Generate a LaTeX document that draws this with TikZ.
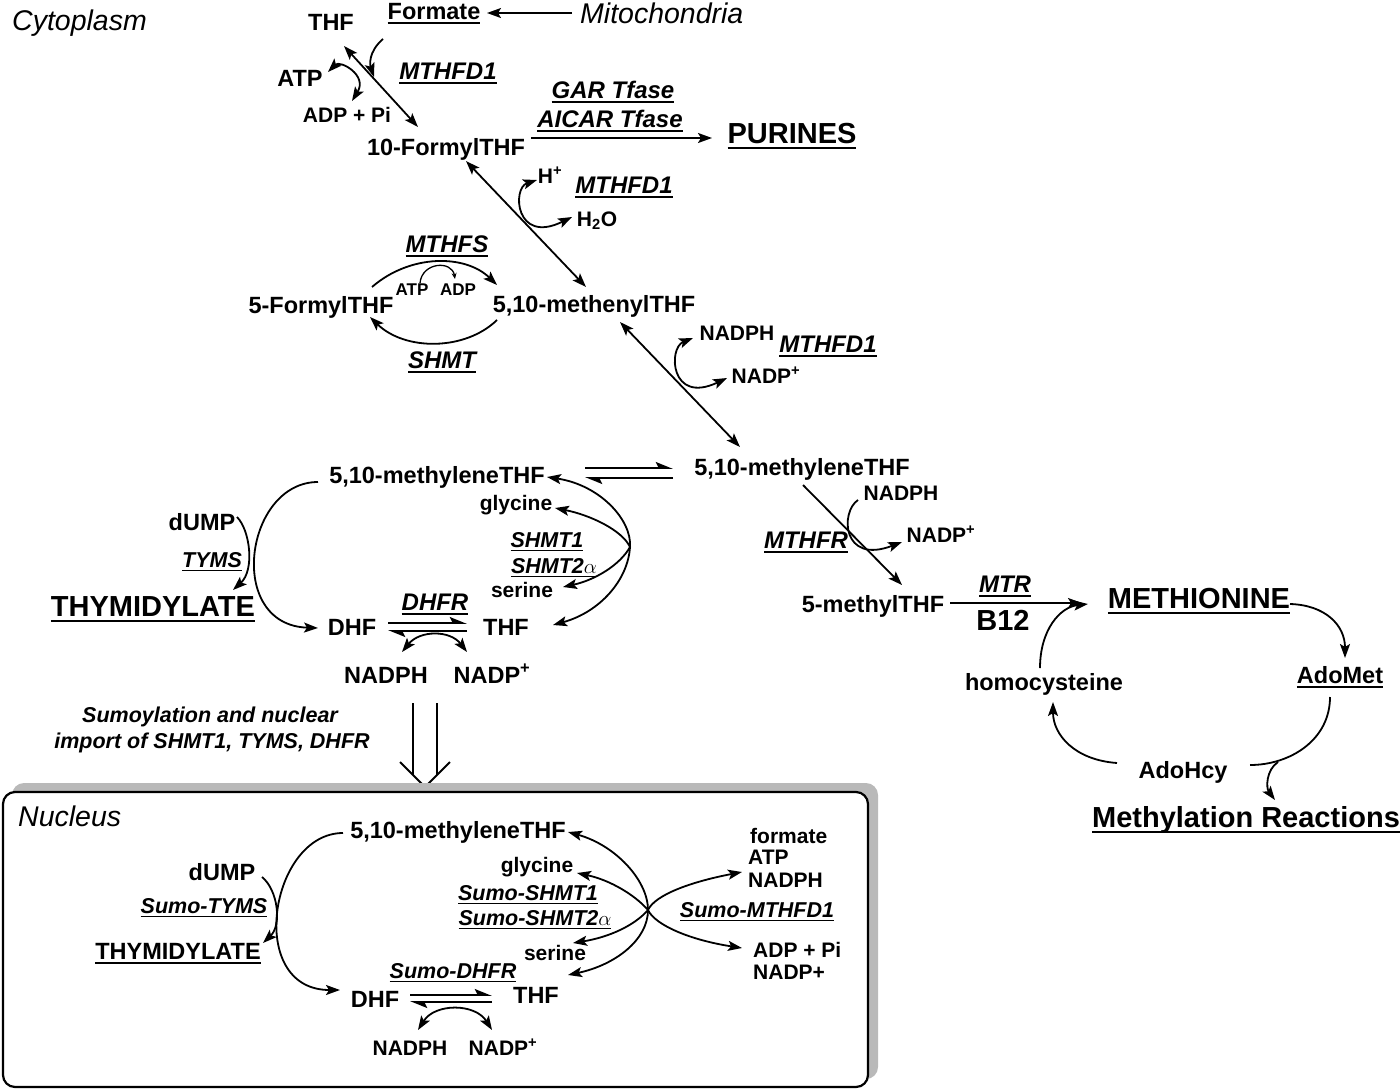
\documentclass[tikz,border=0pt]{standalone}
\usepackage{fontspec}
\setmainfont{Liberation Sans}
\usetikzlibrary{arrows.meta}
\newcommand\myul[1]{\setbox0\hbox{#1}\rlap{\rule[-0.2em]{\wd0}{0.075em}}\box0}
\tikzset{
 lab/.style={inner sep=0pt, anchor=base, font=\fontsize{23.5}{27}\selectfont\bfseries},
 sml/.style={inner sep=0pt, anchor=base, font=\fontsize{21}{24}\selectfont\bfseries},
 big/.style={inner sep=0pt, anchor=base, font=\fontsize{29}{33}\selectfont\bfseries},
 enz/.style={inner sep=0pt, anchor=base, font=\fontsize{24}{27}\selectfont\bfseries\itshape},
 senz/.style={inner sep=0pt, anchor=base, font=\fontsize{21.5}{25}\selectfont\bfseries\itshape},
 reg/.style={inner sep=0pt, anchor=base west, font=\fontsize{28.5}{32}\selectfont\itshape},
 tny/.style={inner sep=0pt, anchor=base, font=\fontsize{17}{20}\selectfont\bfseries},
 ln/.style={line width=1.8pt},
 ar/.style={ln, -{Stealth[length=14pt,width=10pt,inset=3pt]}},
 aa/.style={ln, {Stealth[length=14pt,width=10pt,inset=3pt]}-{Stealth[length=14pt,width=10pt,inset=3pt]}},
 hp/.style={ln, -{Stealth[harpoon,length=15pt,width=12pt,inset=3pt]}},
 tinyar/.style={line width=1.3pt, -{Stealth[length=6pt,width=5pt]}},
}
\begin{document}
\begin{tikzpicture}[x=1pt,y=-1pt]
\useasboundingbox (0,0) rectangle (1400,1090);
% ---------------- Cytoplasm ----------------
\node[reg] (cyto) at (12,30) {Cytoplasm};
\node[lab] (thf0) at (331,30) {THF};
\node[lab] (formate) at (434,19) {\myul{Formate}};
\node[reg] (mito) at (580,23) {Mitochondria};
\node[lab] (atp0) at (300,86) {ATP};
\node[enz] (mthfd1a) at (448,79) {\myul{MTHFD1}};
\node[sml] (adppi0) at (347,122) {ADP + Pi};
\node[lab] (formyl10) at (446,155) {10-FormylTHF};
\node[enz] (gar) at (613,98) {\myul{GAR Tfase}};
\node[enz] (aicar) at (610,127) {\myul{AICAR Tfase}};
\node[big] (purines) at (792,143) {\myul{PURINES}};
\node[sml] (hplus) at (550,183) {H\textsuperscript{+}};
\node[enz] (mthfd1b) at (624,193) {\myul{MTHFD1}};
\node[sml] (h2o) at (597,226) {H\textsubscript{2}O};
\node[lab] (methenyl) at (594,312) {5,10-methenylTHF};
\node[enz] (mthfs) at (447,252) {\myul{MTHFS}};
\node[lab] (formyl5) at (321,313) {5-FormylTHF};
\node[tny] (atps) at (412,295) {ATP};
\node[tny] (adps) at (458,295) {ADP};
\node[enz] (shmt) at (442,368) {\myul{SHMT}};
\node[sml] (nadph1) at (737,340) {NADPH};
\node[enz] (mthfd1c) at (828,352) {\myul{MTHFD1}};
\node[sml] (nadp1) at (766,383) {NADP\textsuperscript{+}};
\node[lab] (mlL) at (437,483) {5,10-methyleneTHF};
\node[lab] (mlR) at (802,475) {5,10-methyleneTHF};
\node[sml] (gly) at (516,510) {glycine};
\node[senz] (shmt1) at (547,547) {\myul{SHMT1}};
\node[senz] (shmt2) at (554,573) {\myul{SHMT2$\alpha$}};
\node[sml] (ser) at (522,597) {serine};
\node[enz] (dhfr) at (435,610) {\myul{DHFR}};
\node[lab] (dhf) at (352,635) {DHF};
\node[lab] (thf) at (506,635) {THF};
\node[lab] (nadph2) at (386,683) {NADPH};
\node[lab] (nadp2) at (492,683) {NADP\textsuperscript{+}};
\node[lab] (dump) at (202,530) {dUMP};
\node[senz] (tyms) at (212,567) {\myul{TYMS}};
\node[big] (thym) at (153,616) {\myul{THYMIDYLATE}};
\node[enz] (mthfr) at (806,548) {\myul{MTHFR}};
\node[sml] (nadph3) at (901,500) {NADPH};
\node[sml] (nadp3) at (941,542) {NADP\textsuperscript{+}};
\node[lab] (methyl5) at (873,612) {5-methylTHF};
\node[enz] (mtr) at (1005,592) {\myul{MTR}};
\node[big] (b12) at (1003,630) {B12};
\node[big] (methionine) at (1199,608) {\myul{METHIONINE}};
\node[lab] (adomet) at (1340,683) {\myul{AdoMet}};
\node[lab] (homocys) at (1044,690) {homocysteine};
\node[lab] (adohcy) at (1183,778) {AdoHcy};
\node[big] (methylation) at (1246,827) {\myul{Methylation Reactions}};
\node[senz] (sumo1) at (210,722) {Sumoylation and nuclear};
\node[senz] (sumo2) at (212,748) {import of SHMT1, TYMS, DHFR};
% coordinates and connectors
\coordinate (c1) at (572,13); \coordinate (c2) at (487,13);
\draw[ar] (c1) -- (c2);
\coordinate (d1) at (344,46); \coordinate (d2) at (418,127);
\draw[aa] (d1) -- (d2);
\coordinate (f1) at (383,39); \coordinate (f2) at (374,77);
\draw[ar] (f1) .. controls (368,52) and (370,65) .. (f2);
\coordinate (a1) at (328,72); \coordinate (a2) at (352,101);
\draw[aa] (a1) .. controls (340,60) and (368,75) .. (a2);
\coordinate (p1) at (531,138); \coordinate (p2) at (712,138);
\draw[ar] (p1) -- (p2);
\coordinate (e1) at (466,161); \coordinate (e2) at (586,287);
\draw[aa] (e1) -- (e2);
\coordinate (h1) at (537,180); \coordinate (h2) at (572,217);
\draw[aa] (h1) .. controls (512,188) and (515,245) .. (h2);
\coordinate (s1) at (372,287); \coordinate (s2) at (497,285);
\draw[ar] (s1) .. controls (410,254) and (465,254) .. (s2);
\coordinate (t1) at (420,283); \coordinate (t2) at (455,279);
\draw[tinyar] (t1) .. controls (422,262) and (452,260) .. (t2);
\coordinate (s3) at (497,320); \coordinate (s4) at (370,317);
\draw[ar] (s3) .. controls (465,351) and (405,351) .. (s4);
\coordinate (g1) at (620,322); \coordinate (g2) at (740,447);
\draw[aa] (g1) -- (g2);
\coordinate (n1) at (693,338); \coordinate (n2) at (727,378);
\draw[aa] (n1) .. controls (668,348) and (670,405) .. (n2);
\coordinate (q1) at (585,468); \coordinate (q2) at (673,468);
\coordinate (q3) at (673,478); \coordinate (q4) at (585,478);
\draw[hp] (q1) -- (q2);
\draw[hp] (q3) -- (q4);
\coordinate (ty1) at (318,482); \coordinate (ty2) at (318,628);
\draw[ar] (ty1) .. controls (245,482) and (225,625) .. (ty2);
\coordinate (du1) at (237,517); \coordinate (du2) at (233,590);
\draw[ar] (du1) .. controls (250,530) and (255,570) .. (du2);
\coordinate (r1) at (388,623); \coordinate (r2) at (467,623);
\coordinate (r3) at (467,631); \coordinate (r4) at (388,631);
\draw[hp] (r1) -- (r2);
\draw[hp] (r3) -- (r4);
\coordinate (na1) at (402,652); \coordinate (na2) at (467,652);
\draw[aa] (na1) .. controls (420,630) and (450,630) .. (na2);
\coordinate (J) at (630,547);
\coordinate (sm1) at (547,477); \coordinate (sm2) at (553,625);
\coordinate (sg1) at (555,508); \coordinate (sg2) at (563,587);
\draw[aa] (sm1) .. controls (600,485) and (632,520) .. (J) .. controls (628,580) and (600,612) .. (sm2);
\draw[aa] (sg1) .. controls (590,515) and (622,530) .. (J) .. controls (620,565) and (595,580) .. (sg2);
\coordinate (mr1) at (803,485); \coordinate (mr2) at (902,585);
\draw[ar] (mr1) -- (mr2);
\coordinate (mn1) at (858,500); \coordinate (mn2) at (902,542);
\draw[ar] (mn1) .. controls (840,512) and (842,565) .. (mn2);
\coordinate (mt1) at (950,603); \coordinate (mt2) at (1082,603);
\draw[ar] (mt1) -- (mt2);
\coordinate (m1) at (1290,604); \coordinate (m2) at (1345,658);
\draw[ar] (m1) .. controls (1325,605) and (1345,625) .. (m2);
\coordinate (m3) at (1330,697); \coordinate (m4) at (1250,765);
\draw[ln] (m3) .. controls (1330,740) and (1290,765) .. (m4);
\coordinate (m5) at (1278,762); \coordinate (m6) at (1275,800);
\draw[ar] (m5) .. controls (1266,770) and (1266,788) .. (m6);
\coordinate (m7) at (1117,763); \coordinate (m8) at (1053,702);
\draw[ar] (m7) .. controls (1075,760) and (1053,735) .. (m8);
\coordinate (m9) at (1040,668); \coordinate (m10) at (1088,604);
\draw[ar] (m9) .. controls (1040,630) and (1060,607) .. (m10);
% hollow import arrow
\coordinate (v1) at (413,703); \coordinate (v2) at (413,775);
\coordinate (v3) at (437,703); \coordinate (v4) at (437,775);
\coordinate (vL) at (400,762); \coordinate (vT) at (425,787); \coordinate (vR) at (450,762);
\draw[ln] (v1) -- (v2);
\draw[ln] (v3) -- (v4);
\draw[ln, line join=miter] (vL) -- (vT) -- (vR);
% ---------------- Nucleus box ----------------
\fill[gray!55, rounded corners=12pt] (12,783) rectangle (878,1079);
\draw[line width=2.2pt, fill=white, rounded corners=12pt] (3,792) rectangle (868,1087);
\node[reg] (nucleus) at (18,826) {Nucleus};
\node[lab] (nml) at (458,838) {5,10-methyleneTHF};
\node[lab] (ndump) at (222,880) {dUMP};
\node[senz] (ntyms) at (204,913) {\myul{Sumo-TYMS}};
\node[lab] (nthym) at (178,959) {\myul{THYMIDYLATE}};
\node[sml] (ngly) at (537,872) {glycine};
\node[senz] (nshmt1) at (528,900) {\myul{Sumo-SHMT1}};
\node[senz] (nshmt2) at (535,925) {\myul{Sumo-SHMT2$\alpha$}};
\node[sml] (nser) at (555,960) {serine};
\node[senz] (ndhfr) at (453,978) {\myul{Sumo-DHFR}};
\node[lab] (ndhf) at (375,1007) {DHF};
\node[lab] (nthf) at (536,1003) {THF};
\node[sml] (nnadph) at (410,1055) {NADPH};
\node[sml] (nnadp) at (503,1055) {NADP\textsuperscript{+}};
\node[sml,anchor=base west] (nformate) at (750,843) {formate};
\node[sml,anchor=base west] (natp) at (748,864) {ATP};
\node[sml,anchor=base west] (nnadph2) at (748,887) {NADPH};
\node[senz] (nmthfd1) at (757,917) {\myul{Sumo-MTHFD1}};
\node[sml,anchor=base west] (nadppi) at (753,957) {ADP + Pi};
\node[sml,anchor=base west] (nnadp2) at (753,979) {NADP+};
\coordinate (nb1) at (343,833); \coordinate (nb2) at (340,990);
\draw[ar] (nb1) .. controls (270,833) and (245,990) .. (nb2);
\coordinate (nd1) at (262,877); \coordinate (nd2) at (263,943);
\draw[ar] (nd1) .. controls (278,890) and (282,925) .. (nd2);
\coordinate (nr1) at (410,995); \coordinate (nr2) at (492,995);
\coordinate (nr3) at (492,1002); \coordinate (nr4) at (410,1002);
\draw[hp] (nr1) -- (nr2);
\draw[hp] (nr3) -- (nr4);
\coordinate (nn1) at (418,1030); \coordinate (nn2) at (492,1030);
\draw[aa] (nn1) .. controls (435,1003) and (475,1003) .. (nn2);
\coordinate (J2) at (648,910);
\coordinate (nm1) at (568,832); \coordinate (nm2) at (568,975);
\coordinate (ng1) at (577,873); \coordinate (ng2) at (573,943);
\coordinate (nf1) at (742,872); \coordinate (nf2) at (742,948);
\draw[aa] (nm1) .. controls (615,845) and (648,880) .. (J2) .. controls (648,940) and (615,965) .. (nm2);
\draw[aa] (ng1) .. controls (610,880) and (635,895) .. (J2) .. controls (635,925) and (610,937) .. (ng2);
\draw[aa] (nf1) .. controls (690,882) and (655,895) .. (J2) .. controls (655,925) and (690,940) .. (nf2);
\end{tikzpicture}
\end{document}
